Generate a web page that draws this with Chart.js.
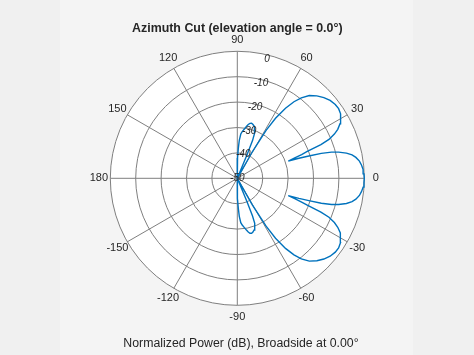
<!DOCTYPE html>
<html><head><meta charset="utf-8">
<script src="https://cdn.jsdelivr.net/npm/chart.js@4.4.1/dist/chart.umd.min.js"></script>
<style>html,body{margin:0;padding:0;background:#f0f0f0}canvas{display:block}</style>
</head><body>
<canvas id="c" width="474" height="355"></canvas>
<script>
// ---- data ----
const titleText = 'Azimuth Cut (elevation angle = 0.0°)';
const xLabelText = 'Normalized Power (dB), Broadside at 0.00°';
const angleTicks = [0, 30, 60, 90, 120, 150, 180, -150, -120, -90, -60, -30];
const ringTicks = [0, -10, -20, -30, -40, -50];
const azimuthDeg = [-180,-90,-89.3,-88,-87,-85.5,-84,-82,-80,-78.5,-77,-75.5,-74,-72,-70,-69,-68,-67.5,-66.5,-61.5,-60.5,-59,-57.5,-55.5,-53.5,-51.5,-49,-46,-43,-40,-37,-34.5,-32,-30,-28,-26,-24.5,-23,-22,-21,-20.3,-19.5,-18.7,-18,-17.3,-16.5,-15.5,-14.5,-13,-11.5,-10,-8,-6,-4,-2,0,2,4,6,8,10,11.5,13,14.5,15.5,16.5,17.3,18,18.7,19.5,20.3,21,22,23,24.5,26,28,30,32,34.5,37,40,43,46,49,51.5,53.5,55.5,57.5,59,60.5,61.5,66.5,67.5,68,69,70,72,74,75.5,77,78.5,80,82,84,85.5,87,88,89.3,90,180];
const powerDb = [-50,-50,-42,-38,-35,-32.5,-31.5,-30.5,-29.3,-28.4,-27.8,-27.6,-27.9,-28.6,-29.8,-31,-34,-40,-50,-50,-38,-28,-22,-16.5,-12.5,-9.5,-6.8,-4.9,-3.4,-2.3,-1.7,-1.6,-2.1,-3,-4.2,-6,-8,-10.8,-14.5,-20.5,-23,-26,-28.8,-24.5,-20.5,-15.5,-11.5,-8.8,-5.9,-3.9,-2.6,-1.45,-0.8,-0.35,-0.1,
  0,-0.1,-0.35,-0.8,-1.45,-2.6,-3.9,-5.9,-8.8,-11.5,-15.5,-20.5,-24.5,-28.8,-26,-23,-20.5,-14.5,-10.8,-8,-6,-4.2,-3,-2.1,-1.6,-1.7,-2.3,-3.4,-4.9,-6.8,-9.5,-12.5,-16.5,-22,-28,-38,-50,-50,-40,-34,-31,-29.8,-28.6,-27.9,-27.6,-27.8,-28.4,-29.3,-30.5,-31.5,-32.5,-35,-38,-42,-50,-50];

const rMin = -50, rMax = 0;
const span = rMax - rMin;
const toRad = d => d * Math.PI / 180;
const points = azimuthDeg.map((a, i) => {
  const r = Math.max(0, powerDb[i] - rMin);
  return { x: r * Math.cos(toRad(a)), y: r * Math.sin(toRad(a)) };
});

const FONT = "'Liberation Sans', Arial, Helvetica, sans-serif";
const polarFrame = {
  id: 'polarFrame',
  beforeDraw(chart) {
    const ctx = chart.ctx;
    ctx.save();
    ctx.fillStyle = '#f0f0f0';
    ctx.fillRect(0, 0, chart.width, chart.height);
    ctx.fillStyle = '#f4f4f4';
    ctx.fillRect(60, 0, 353, chart.height);
    ctx.restore();
  },
  beforeDatasetsDraw(chart) {
    const { ctx, scales: { x, y } } = chart;
    const cx = x.getPixelForValue(0), cy = y.getPixelForValue(0);
    const R = x.getPixelForValue(span) - cx;
    ctx.save();
    ctx.fillStyle = '#ffffff';
    ctx.beginPath(); ctx.arc(cx, cy, R, 0, Math.PI * 2); ctx.fill();
    ctx.strokeStyle = '#7f7f7f';
    ctx.lineWidth = 1;
    ringTicks.forEach(t => {
      const rr = x.getPixelForValue(t - rMin) - cx;
      if (rr <= 0) return;
      ctx.beginPath(); ctx.arc(cx, cy, rr, 0, Math.PI * 2); ctx.stroke();
    });
    angleTicks.forEach(a => {
      ctx.beginPath();
      ctx.moveTo(cx, cy);
      ctx.lineTo(x.getPixelForValue(span * Math.cos(toRad(a))), y.getPixelForValue(span * Math.sin(toRad(a))));
      ctx.stroke();
    });
    ctx.restore();
  },
  afterDatasetsDraw(chart) {
    const { ctx, scales: { x, y } } = chart;
    ctx.save();
    ctx.fillStyle = '#262626';
    ctx.textAlign = 'center';
    ctx.textBaseline = 'middle';
    ctx.font = '11px ' + FONT;
    const lr = span * 1.09;
    angleTicks.forEach(a => {
      ctx.fillText(String(a), x.getPixelForValue(lr * Math.cos(toRad(a))), y.getPixelForValue(lr * Math.sin(toRad(a))));
    });
    ctx.font = 'italic 10px ' + FONT;
    const la = toRad(76);
    ringTicks.forEach(t => {
      const r = (t - rMin) * 0.965;
      ctx.fillText(String(t), x.getPixelForValue(r * Math.cos(la)), y.getPixelForValue(r * Math.sin(la)));
    });
    ctx.font = 'bold 12.4px ' + FONT;
    ctx.fillText(titleText, 237.3, 28.5);
    ctx.font = '12.3px ' + FONT;
    ctx.fillText(xLabelText, 241, 343.5);
    ctx.restore();
  }
};

new Chart(document.getElementById('c'), {
  type: 'scatter',
  data: { datasets: [{
    data: points,
    showLine: true,
    borderColor: '#0072BD',
    borderWidth: 1.4,
    pointRadius: 0,
    tension: 0,
    clip: false
  }]},
  options: {
    responsive: false,
    animation: false,
    devicePixelRatio: 1,
    layout: { padding: { left: 110.3, right: 109.7, top: 51.3, bottom: 49.7 } },
    plugins: { legend: { display: false }, tooltip: { enabled: false }, title: { display: false } },
    scales: {
      x: { type: 'linear', display: false, min: -span, max: span },
      y: { type: 'linear', display: false, min: -span, max: span }
    }
  },
  plugins: [polarFrame]
});
</script>
</body></html>
